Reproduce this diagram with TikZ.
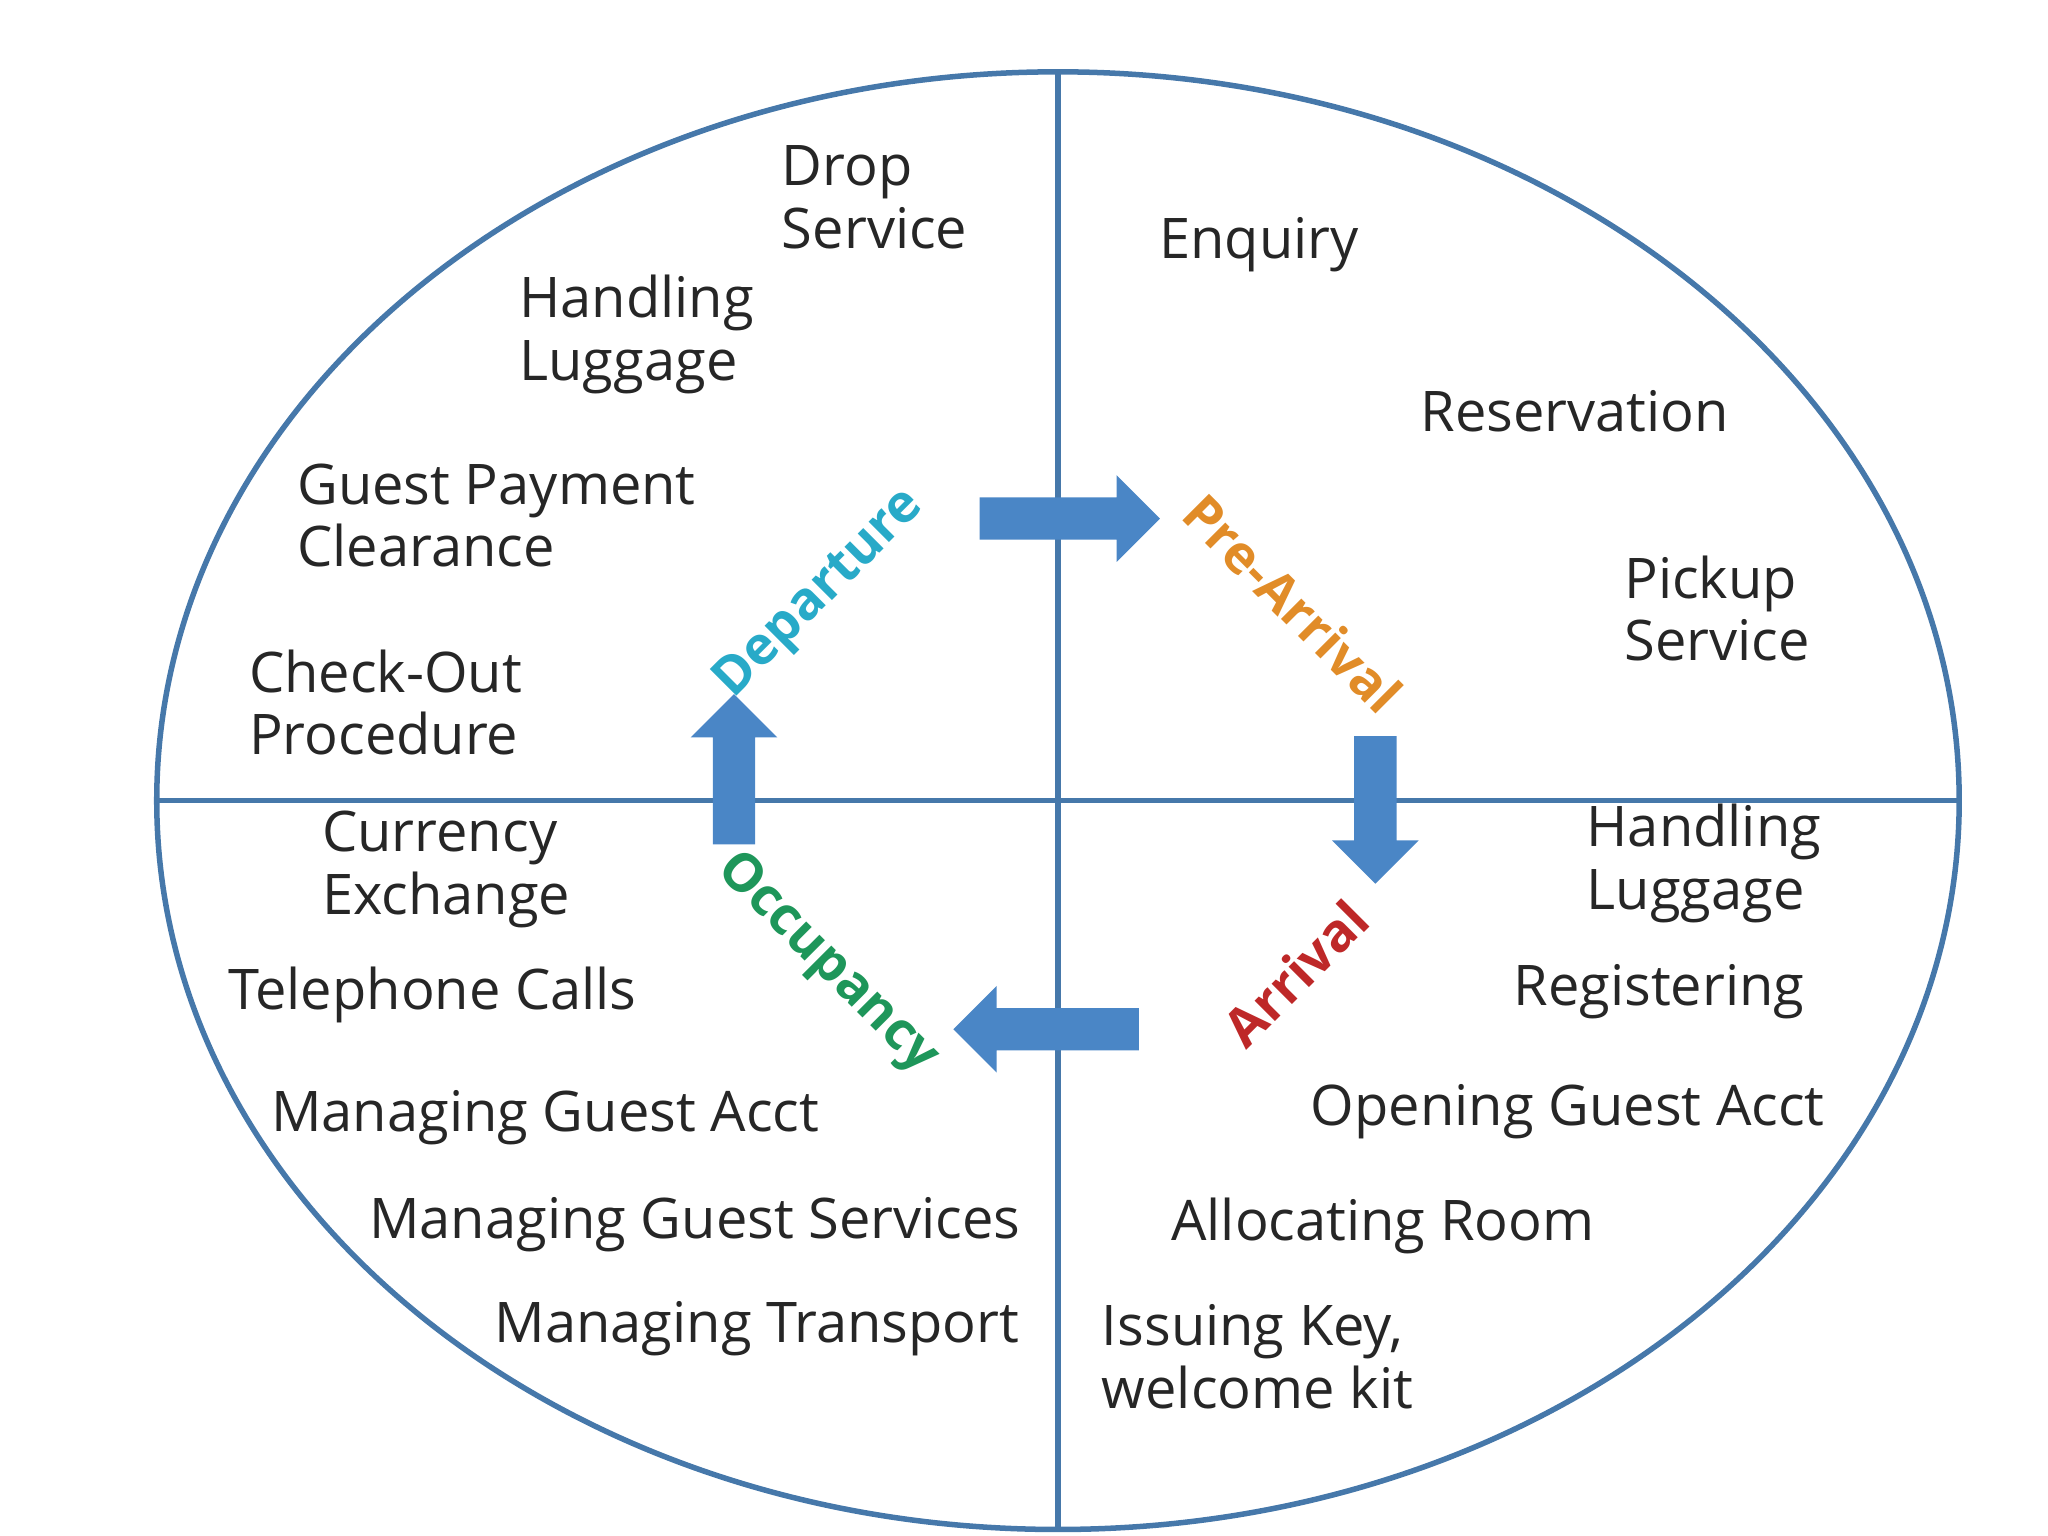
\documentclass[tikz,border=0pt]{standalone}
\usepackage{fontspec}
\setmainfont{Open Sans}
\usetikzlibrary{shapes.arrows}
\definecolor{lineblue}{RGB}{70,120,170}
\definecolor{arrowblue}{RGB}{74,134,198}
\definecolor{depcol}{RGB}{40,170,200}
\definecolor{precol}{RGB}{225,140,40}
\definecolor{arrcol}{RGB}{190,40,40}
\definecolor{occcol}{RGB}{30,150,90}
\tikzset{
    item/.style={anchor=base west, align=left, inner sep=0pt, font=\fontsize{12.2}{13.6}\selectfont, text=black!85},
    phase/.style={font=\fontsize{11.5}{13}\selectfont\bfseries, inner sep=0pt},
    fat/.style={single arrow, fill=arrowblue, draw=none, minimum width=0.64cm, inner xsep=0pt, inner ysep=0.155cm, single arrow head extend=0.17cm, single arrow head indent=0pt}
}
\begin{document}
\begin{tikzpicture}
    \useasboundingbox (0,0) rectangle (15.68,-11.76);
    % frame
    \coordinate (c) at (8.1,-6.13);
    \draw [lineblue, line width=1.2pt] (c) ellipse [x radius=6.9, y radius=5.58];
    \coordinate (top) at (8.1,-0.55);
    \coordinate (bot) at (8.1,-11.71);
    \coordinate (lft) at (1.2,-6.13);
    \coordinate (rgt) at (15.0,-6.13);
    \draw [lineblue, line width=1.2pt] (top) -- (bot) (lft) -- (rgt);
    % activities
    \node (drop) [item] at (5.98,-1.90) {Drop\\Service};
    \node (lugA) [item] at (3.97,-2.91) {Handling\\Luggage};
    \node (pay) [item] at (2.27,-4.34) {Guest Payment\\Clearance};
    \node (chk) [item] at (1.90,-5.78) {Check-Out\\Procedure};
    \node (enq) [item] at (8.87,-1.98) {Enquiry};
    \node (res) [item] at (10.87,-3.30) {Reservation};
    \node (pick) [item] at (12.43,-5.06) {Pickup\\Service};
    \node (cur) [item] at (2.46,-7.00) {Currency\\Exchange};
    \node (tel) [item] at (1.74,-7.73) {Telephone Calls};
    \node (mga) [item] at (2.07,-8.66) {Managing Guest Acct};
    \node (mgs) [item] at (2.82,-9.48) {Managing Guest Services};
    \node (mtr) [item] at (3.78,-10.28) {Managing Transport};
    \node (lugB) [item] at (12.14,-6.96) {Handling\\Luggage};
    \node (reg) [item] at (11.58,-7.70) {Registering};
    \node (oga) [item] at (10.03,-8.62) {Opening Guest Acct};
    \node (alr) [item] at (8.96,-9.50) {Allocating Room};
    \node (key) [item] at (8.43,-10.78) {Issuing Key,\\welcome kit};
    % phases
    \node (dep) [phase, text=depcol, rotate=45] at (6.28,-4.55) {Departure};
    \node (pre) [phase, text=precol, rotate=-45] at (9.90,-4.62) {Pre-Arrival};
    \node (arr) [phase, text=arrcol, rotate=45] at (9.92,-7.45) {Arrival};
    \node (occ) [phase, text=occcol, rotate=-45] at (6.33,-7.38) {Occupancy};
    % cycle arrows
    \node (toPre) [fat, minimum height=1.38cm, rotate=0] at (8.11,-3.97) {};
    \node (toArr) [fat, minimum height=1.13cm, rotate=-90] at (10.53,-6.12) {};
    \node (toOcc) [fat, minimum height=1.42cm, rotate=180] at (8.09,-7.88) {};
    \node (toDep) [fat, minimum height=1.15cm, rotate=90] at (5.62,-5.97) {};
\end{tikzpicture}
\end{document}
